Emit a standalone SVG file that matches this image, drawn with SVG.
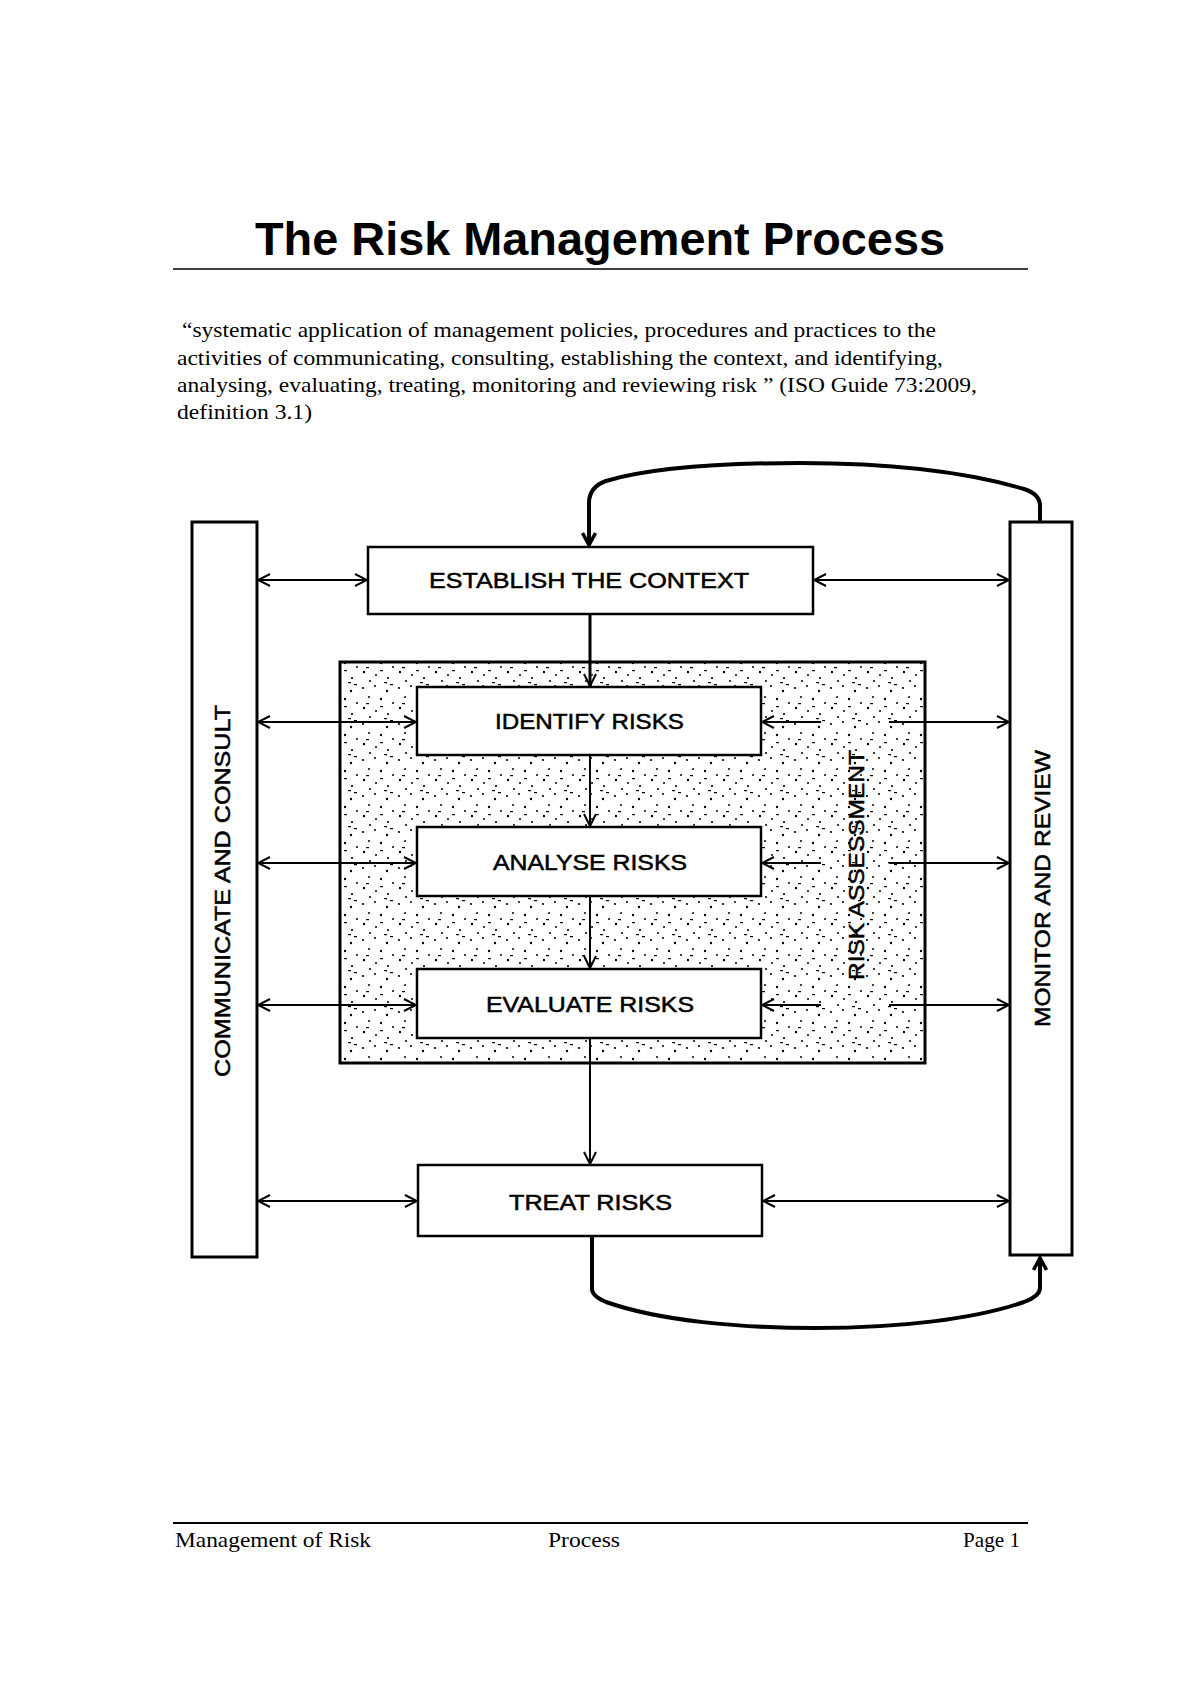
<svg xmlns="http://www.w3.org/2000/svg" width="1200" height="1696" viewBox="0 0 1200 1696">
<defs>
<style>
.serif{font-family:"Liberation Serif","Times New Roman",serif;font-size:22px;fill:#000}
.lbl{font-family:"Liberation Sans",Arial,sans-serif;font-size:22px;fill:#000;stroke:#000;stroke-width:0.5}
.box{fill:#fff;stroke:#000;stroke-width:2.5}
.col{fill:#fff;stroke:#000;stroke-width:3}
.ln{fill:none;stroke:#000;stroke-width:2}
.thick{fill:none;stroke:#000;stroke-width:4;stroke-linejoin:round}
</style>
<marker id="ah" markerUnits="userSpaceOnUse" viewBox="0 0 14 14" markerWidth="14" markerHeight="14" refX="13" refY="7" orient="auto-start-reverse">
<path d="M1,1 L13,7 L1,13" fill="none" stroke="#000" stroke-width="2"/>
</marker>
<marker id="ahb" markerUnits="userSpaceOnUse" viewBox="0 0 16 16" markerWidth="16" markerHeight="16" refX="14" refY="8" orient="auto">
<path d="M2,1.5 L14,8 L2,14.5" fill="none" stroke="#000" stroke-width="3.5"/>
</marker>
<pattern id="dots" patternUnits="userSpaceOnUse" width="36" height="36">
<rect width="36" height="36" fill="#fff"/>
<g fill="#000">
<circle cx="3" cy="4" r="1.1"/><circle cx="15" cy="2" r="1"/><circle cx="27" cy="7" r="1.2"/>
<circle cx="9" cy="13" r="1"/><circle cx="21" cy="15" r="1.2"/><circle cx="33" cy="19" r="1"/>
<circle cx="4" cy="24" r="1.2"/><circle cx="16" cy="27" r="1"/><circle cx="28" cy="30" r="1.1"/>
<circle cx="10" cy="33" r="1"/>
<rect x="30" y="0" width="3" height="1.2"/><rect x="6" y="19" width="3" height="1.2"/>
<rect x="20" y="22" width="3" height="1.2"/><rect x="24" y="34" width="3" height="1.2"/>
</g>
</pattern>
</defs>
<rect width="1200" height="1696" fill="#fff"/>

<g id="header">
<text x="255" y="255" font-family="Liberation Sans, Arial, sans-serif" font-weight="bold" font-size="47" textLength="690" lengthAdjust="spacingAndGlyphs">The Risk Management Process</text>
<line x1="173" y1="269" x2="1028" y2="269" stroke="#000" stroke-width="1.5"/>
<text class="serif" x="182" y="337" textLength="754" lengthAdjust="spacingAndGlyphs">“systematic application of management policies, procedures and practices to the</text>
<text class="serif" x="177" y="365" textLength="766" lengthAdjust="spacingAndGlyphs">activities of communicating, consulting, establishing the context, and identifying,</text>
<text class="serif" x="177" y="392" textLength="800" lengthAdjust="spacingAndGlyphs">analysing, evaluating, treating, monitoring and reviewing risk ” (ISO Guide 73:2009,</text>
<text class="serif" x="177" y="419" textLength="135" lengthAdjust="spacingAndGlyphs">definition 3.1)</text>
</g>

<g id="risk-assessment">
<rect x="340" y="662" width="585" height="401" fill="url(#dots)" stroke="#000" stroke-width="3"/>
<text class="lbl" transform="translate(856,865) rotate(-90)" x="-115" y="8" textLength="230" lengthAdjust="spacingAndGlyphs">RISK ASSESSMENT</text>
</g>

<g id="communicate-consult">
<rect class="col" x="192" y="522" width="65" height="735"/>
<text class="lbl" transform="translate(222,891) rotate(-90)" x="-186" y="8" textLength="372" lengthAdjust="spacingAndGlyphs">COMMUNICATE AND CONSULT</text>
</g>

<g id="monitor-review">
<rect class="col" x="1010" y="522" width="62" height="733"/>
<text class="lbl" transform="translate(1042,888) rotate(-90)" x="-139" y="8" textLength="277" lengthAdjust="spacingAndGlyphs">MONITOR AND REVIEW</text>
</g>

<g id="establish">
<rect class="box" x="368" y="547" width="445" height="67"/>
<text class="lbl" x="429" y="588" textLength="320" lengthAdjust="spacingAndGlyphs">ESTABLISH THE CONTEXT</text>
</g>

<g id="identify">
<rect class="box" x="417" y="687" width="344" height="68"/>
<text class="lbl" x="495" y="729" textLength="189" lengthAdjust="spacingAndGlyphs">IDENTIFY RISKS</text>
</g>

<g id="analyse">
<rect class="box" x="417" y="827" width="344" height="69"/>
<text class="lbl" x="493" y="870" textLength="194" lengthAdjust="spacingAndGlyphs">ANALYSE RISKS</text>
</g>

<g id="evaluate">
<rect class="box" x="417" y="969" width="344" height="69"/>
<text class="lbl" x="486" y="1012" textLength="208" lengthAdjust="spacingAndGlyphs">EVALUATE RISKS</text>
</g>

<g id="treat">
<rect class="box" x="418" y="1165" width="344" height="71"/>
<text class="lbl" x="509" y="1210" textLength="163" lengthAdjust="spacingAndGlyphs">TREAT RISKS</text>
</g>

<g id="connectors">
<line class="ln" x1="258" y1="580" x2="367" y2="580" marker-start="url(#ah)" marker-end="url(#ah)"/>
<line class="ln" x1="258" y1="722" x2="416" y2="722" marker-start="url(#ah)" marker-end="url(#ah)"/>
<line class="ln" x1="258" y1="863" x2="416" y2="863" marker-start="url(#ah)" marker-end="url(#ah)"/>
<line class="ln" x1="258" y1="1005" x2="416" y2="1005" marker-start="url(#ah)" marker-end="url(#ah)"/>
<line class="ln" x1="258" y1="1201" x2="417" y2="1201" marker-start="url(#ah)" marker-end="url(#ah)"/>
<line class="ln" x1="814" y1="580" x2="1009" y2="580" marker-start="url(#ah)" marker-end="url(#ah)"/>
<line class="ln" x1="763" y1="1201" x2="1009" y2="1201" marker-start="url(#ah)" marker-end="url(#ah)"/>
<line class="ln" x1="821" y1="722" x2="762" y2="722" marker-end="url(#ah)"/>
<line class="ln" x1="889" y1="722" x2="1009" y2="722" marker-end="url(#ah)"/>
<line class="ln" x1="821" y1="863" x2="762" y2="863" marker-end="url(#ah)"/>
<line class="ln" x1="889" y1="863" x2="1009" y2="863" marker-end="url(#ah)"/>
<line class="ln" x1="821" y1="1005" x2="762" y2="1005" marker-end="url(#ah)"/>
<line class="ln" x1="889" y1="1005" x2="1009" y2="1005" marker-end="url(#ah)"/>
<line x1="590" y1="615" x2="590" y2="686" stroke="#000" stroke-width="3" marker-end="url(#ah)"/>
<line class="ln" x1="590" y1="756" x2="590" y2="826" marker-end="url(#ah)"/>
<line class="ln" x1="590" y1="897" x2="590" y2="968" marker-end="url(#ah)"/>
<line class="ln" x1="590" y1="1039" x2="590" y2="1164" marker-end="url(#ah)"/>
<path class="thick" d="M1040,521 L1040,506 Q1040,494 1024,489 C960,470 880,463 800,463 C720,463 650,468 606,481 Q589,487 589,503 L589,545" marker-end="url(#ahb)"/>
<path class="thick" d="M592,1237 L592,1289 Q592,1296 606,1302 C660,1321 740,1328 816,1328 C900,1328 975,1319 1024,1302 Q1040,1296 1040,1288 L1040,1258" marker-end="url(#ahb)"/>
</g>

<g id="footer">
<line x1="173" y1="1523" x2="1028" y2="1523" stroke="#000" stroke-width="2"/>
<text class="serif" x="175" y="1547" textLength="196" lengthAdjust="spacingAndGlyphs">Management of Risk</text>
<text class="serif" x="548" y="1547" textLength="72" lengthAdjust="spacingAndGlyphs">Process</text>
<text class="serif" x="963" y="1547" textLength="57" lengthAdjust="spacingAndGlyphs">Page 1</text>
</g>
</svg>
